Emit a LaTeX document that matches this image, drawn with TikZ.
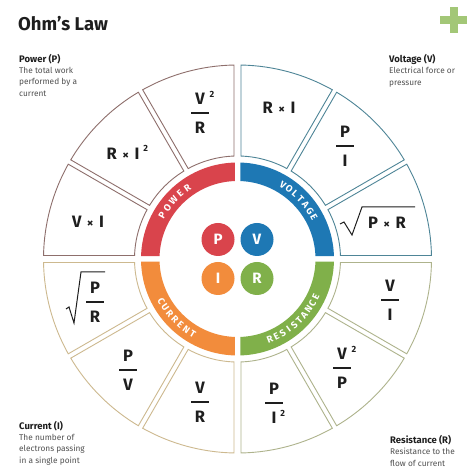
\documentclass[tikz,border=0pt]{standalone}
\usepackage{fontspec}
\setmainfont{Fira Sans}
\definecolor{cred}{HTML}{D9444C}
\definecolor{cblue}{HTML}{1E78B4}
\definecolor{corange}{HTML}{F28C3C}
\definecolor{cgreen}{HTML}{80B04A}
\definecolor{lnP}{HTML}{8E6F6C}
\definecolor{lnV}{HTML}{4E8597}
\definecolor{lnI}{HTML}{CDB98F}
\definecolor{lnR}{HTML}{AEB38C}
\definecolor{ink}{HTML}{1E1E1E}
\definecolor{desc}{HTML}{505050}
\definecolor{plusg}{HTML}{A3C777}
\newcommand\annsec[7]{%
  \pgfmathsetmacro\aA{#2+asin(#6/#4)}%
  \pgfmathsetmacro\aB{#2+asin(#6/#5)}%
  \pgfmathsetmacro\aC{#3-asin(#7/#5)}%
  \pgfmathsetmacro\aD{#3-asin(#7/#4)}%
  \path[#1] (\aA:#4pt) -- (\aB:#5pt) arc[start angle=\aB, end angle=\aC, radius=#5pt]
    -- (\aD:#4pt) arc[start angle=\aD, end angle=\aA, radius=#4pt] -- cycle;}
% fraction: name, x, y, numerator, denominator
\newcommand\fracat[5]{%
  \coordinate (#1) at (#2,#3);
  \node[fml] (#1n) at ([yshift=14.5pt]#1) {#4};
  \node[fml] (#1d) at ([yshift=-14.5pt]#1) {#5};
  \draw[fbar] ([xshift=-9pt]#1) -- ([xshift=9pt]#1);}
\newcommand\tms{\,\,{\fontsize{13}{13}\selectfont ×}\,\,}
\begin{document}
\begin{tikzpicture}[x=1pt,y=1pt,
  cellP/.style={draw=lnP, line width=0.9pt},
  cellV/.style={draw=lnV, line width=0.9pt},
  cellI/.style={draw=lnI, line width=0.9pt},
  cellR/.style={draw=lnR, line width=0.9pt},
  fml/.style={font=\fontsize{16.5}{16.5}\selectfont\bfseries, text=ink, inner sep=0pt},
  supr/.style={font=\fontsize{9}{9}\selectfont\bfseries, text=ink, inner sep=0pt},
  fbar/.style={draw=ink, line width=1.1pt},
  radic/.style={draw=ink, line width=1pt, line join=miter},
  ringtxt/.style={text=white, font=\fontsize{9.5}{9.5}\selectfont\bfseries, inner sep=0pt},
  bigc/.style={circle, minimum size=33pt, inner sep=0pt, text=white,
     font=\fontsize{15}{15}\selectfont\bfseries},
  head/.style={anchor=base west, inner sep=0pt, text=ink, font=\fontsize{9.5}{9.5}\selectfont\bfseries},
  dtxt/.style={anchor=base west, inner sep=0pt, text=desc, font=\fontsize{8.3}{11.5}\selectfont, align=left}
]
\useasboundingbox (0,0) rectangle (474,474);
\fill[white] (0,0) rectangle (474,474);

% title and plus
\node[anchor=base west, inner sep=0pt, text=ink, font=\fontsize{18.5}{18.5}\selectfont\bfseries] (title) at (18,443) {Ohm’s Law};
\fill[plusg] (440,450) rectangle (467,458);
\fill[plusg] (449.5,441) rectangle (457.5,467);

% corner labels
\node[head] (hP) at (19,411) {Power (P)};
\node[dtxt, anchor=north west] (dP) at (19,407) {The total work\\performed by a\\current};
\node[head] (hV) at (389,411) {Voltage (V)};
\node[dtxt, anchor=north west] (dV) at (389,407) {Electrical force or\\pressure};
\node[head] (hI) at (19,44) {Current (I)};
\node[dtxt, anchor=north west] (dI) at (19,40) {The number of\\electrons passing\\in a single point};
\node[head] (hR) at (390,30) {Resistance (R)};
\node[dtxt, anchor=north west] (dR) at (390,26) {Resistance to the\\flow of current};

\begin{scope}[shift={(237.5,215)}]
  % outer cells
  \annsec{cellP}{90}{120}{103}{194}{3.5}{2.5}
  \annsec{cellP}{120}{150}{103}{194}{2.5}{2.5}
  \annsec{cellP}{150}{180}{103}{194}{2.5}{3.5}
  \annsec{cellV}{0}{30}{103}{194}{3.5}{2.5}
  \annsec{cellV}{30}{60}{103}{194}{2.5}{2.5}
  \annsec{cellV}{60}{90}{103}{194}{2.5}{3.5}
  \annsec{cellI}{180}{210}{103}{194}{3.5}{2.5}
  \annsec{cellI}{210}{240}{103}{194}{2.5}{2.5}
  \annsec{cellI}{240}{270}{103}{194}{2.5}{3.5}
  \annsec{cellR}{270}{300}{103}{194}{3.5}{2.5}
  \annsec{cellR}{300}{330}{103}{194}{2.5}{2.5}
  \annsec{cellR}{330}{360}{103}{194}{2.5}{3.5}
  % coloured ring
  \annsec{fill=cred}{90}{180}{78}{96.5}{2.75}{2.75}
  \annsec{fill=cblue}{0}{90}{78}{96.5}{2.75}{2.75}
  \annsec{fill=corange}{180}{270}{78}{96.5}{2.75}{2.75}
  \annsec{fill=cgreen}{270}{360}{78}{96.5}{2.75}{2.75}
  % ring words
  \foreach \ch [count=\i from 0] in {P,O,W,E,R}{
    \pgfmathsetmacro\th{137.5+(2-\i)*6.2}
    \node[ringtxt, rotate=\th-90] (pw\i) at (\th:87pt) {\ch};}
  \foreach \ch [count=\i from 0] in {V,O,L,T,A,G,E}{
    \pgfmathsetmacro\th{43.5+(3-\i)*5.0}
    \node[ringtxt, rotate=\th-90] (vo\i) at (\th:87pt) {\ch};}
  \foreach \ch [count=\i from 0] in {C,U,R,R,E,N,T}{
    \pgfmathsetmacro\th{224+(\i-3)*5.0}
    \node[ringtxt, rotate=\th+90] (cu\i) at (\th:87pt) {\ch};}
  \foreach \ch [count=\i from 0] in {R,E,S,I,S,T,A,N,C,E}{
    \pgfmathsetmacro\th{313+(\i-4.5)*4.7}
    \node[ringtxt, rotate=\th+90] (re\i) at (\th:87pt) {\ch};}
  % centre circles
  \node[bigc, fill=cred] (cP) at (-19.5,19.5) {P};
  \node[bigc, fill=cblue] (cV) at (19.5,19.5) {V};
  \node[bigc, fill=corange] (cI) at (-19.5,-19.5) {I};
  \node[bigc, fill=cgreen] (cR) at (19.5,-19.5) {R};
\end{scope}

% power formulas
\fracat{fP1}{200}{361}{V}{R}
\node[supr] (fP1s) at ([xshift=7pt,yshift=4pt]fP1n.east) {2};
\node[fml] (fP2) at (123,320) {R\tms I};
\node[supr] (fP2s) at ([xshift=6pt,yshift=6pt]fP2.east) {2};
\node[fml] (fP3) at (88,252) {V\tms I};

% voltage formulas
\node[fml] (fV1) at (279,366) {R\tms I};
\fracat{fV2}{345}{328}{P}{I}
\node[fml] (fV3) at (387,251) {P\tms R};
\draw[radic] ([shift={(-47,-1)}]fV3.center) -- ([shift={(-43,1)}]fV3.center)
  -- ([shift={(-35,-12)}]fV3.center) -- ([shift={(-25,16)}]fV3.center)
  -- ([shift={(28,16)}]fV3.center);

% current formulas
\fracat{fI1}{95}{172}{P}{R}
\draw[radic] ([shift={(-29,-7)}]fI1) -- ([shift={(-26,-5)}]fI1)
  -- ([shift={(-21,-21)}]fI1) -- ([shift={(-14,30)}]fI1)
  -- ([shift={(10,30)}]fI1);
\fracat{fI2}{128}{104}{P}{V}
\fracat{fI3}{200}{72}{V}{R}

% resistance formulas
\fracat{fR1}{390}{174}{V}{I}
\fracat{fR2}{342}{106}{V}{P}
\node[supr] (fR2s) at ([xshift=7pt,yshift=4pt]fR2n.east) {2};
\fracat{fR3}{274}{71}{P}{I}
\node[supr] (fR3s) at ([xshift=6pt,yshift=4pt]fR3d.east) {2};
\end{tikzpicture}
\end{document}
